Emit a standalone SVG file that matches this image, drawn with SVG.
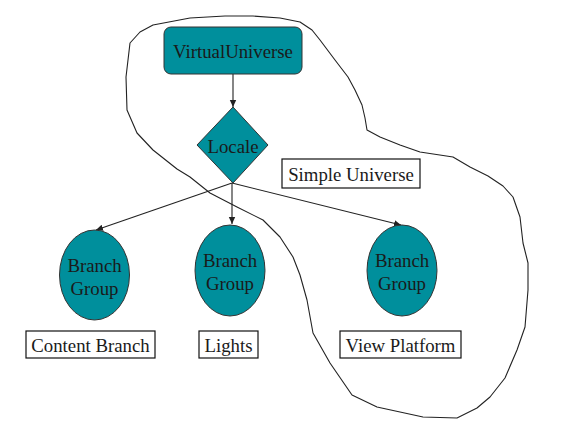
<svg xmlns="http://www.w3.org/2000/svg" width="561" height="429" viewBox="0 0 561 429">
<style>
.n{fill:#008f9c;stroke:#333;stroke-width:1}
.t{font-family:"Liberation Serif","Times New Roman",serif;font-size:18.8px;fill:#1a1a1a;text-anchor:middle}
.lb{fill:#fff;stroke:#111;stroke-width:1.2}
.c{stroke:#222;stroke-width:1.1;fill:none}
.blob{fill:none;stroke:#222;stroke-width:1.1;stroke-linejoin:round}
</style>
<defs>
<marker id="ah" markerWidth="8" markerHeight="8" refX="7" refY="4" orient="auto" markerUnits="userSpaceOnUse">
<path d="M0,0.8 L7,4 L0,7.2 Z" fill="#222"/>
</marker>
</defs>
<rect width="561" height="429" fill="#fff"/>
<path class="blob" d="M153,25 L190,18 L225,16 L253,16 L280,18 L300,22 L312,30 L320,40 L335,60 L348,77 L355,90 L362,105 L365,118 L367,130 L380,137 L400,145 L420,152 L453,157 L470,167 L488,176 L503,186 L513,197 L520,217 L523,243 L528,263 L528,290 L525,327 L517,350 L505,378 L490,397 L477,408 L457,418 L423,417 L377,407 L352,395 L330,363 L313,333 L307,300 L300,275 L293,257 L280,237 L263,220 L237,207 L210,193 L190,177 L177,169 L153,150 L137,133 L127,110 L126,77 L130,43 L140,32 Z"/>
<g id="connectors">
<line class="c" x1="233" y1="74" x2="233" y2="107" marker-end="url(#ah)"/>
<line class="c" x1="232" y1="183" x2="96" y2="230" marker-end="url(#ah)"/>
<line class="c" x1="232" y1="183" x2="232" y2="224" marker-end="url(#ah)"/>
<line class="c" x1="232" y1="183" x2="401" y2="225" marker-end="url(#ah)"/>
</g>
<g id="virtualuniverse">
<rect class="n" x="164" y="27" width="138" height="47" rx="7"/>
<text class="t" x="233" y="58">VirtualUniverse</text>
</g>
<g id="locale">
<polygon class="n" points="233,107 268,145 233,183 197,145"/>
<text class="t" x="233" y="153">Locale</text>
</g>
<g id="simple-universe">
<rect class="lb" x="282" y="159" width="138" height="29"/>
<text class="t" x="351" y="181">Simple Universe</text>
</g>
<g id="bg-content">
<ellipse class="n" cx="94.5" cy="275" rx="35" ry="45"/>
<text class="t" x="94.5" y="272">Branch</text>
<text class="t" x="94.5" y="295">Group</text>
</g>
<g id="bg-lights">
<ellipse class="n" cx="230" cy="270.5" rx="35" ry="45.5"/>
<text class="t" x="230" y="267">Branch</text>
<text class="t" x="230" y="290">Group</text>
</g>
<g id="bg-view">
<ellipse class="n" cx="402" cy="270.5" rx="35" ry="45.5"/>
<text class="t" x="402" y="267">Branch</text>
<text class="t" x="402" y="290">Group</text>
</g>
<g id="content-branch">
<rect class="lb" x="26" y="331" width="129" height="27"/>
<text class="t" x="90.5" y="352">Content Branch</text>
</g>
<g id="lights">
<rect class="lb" x="199" y="331" width="59" height="27"/>
<text class="t" x="228.5" y="352">Lights</text>
</g>
<g id="view-platform">
<rect class="lb" x="340" y="331" width="121" height="27"/>
<text class="t" x="400.5" y="352">View Platform</text>
</g>
</svg>
